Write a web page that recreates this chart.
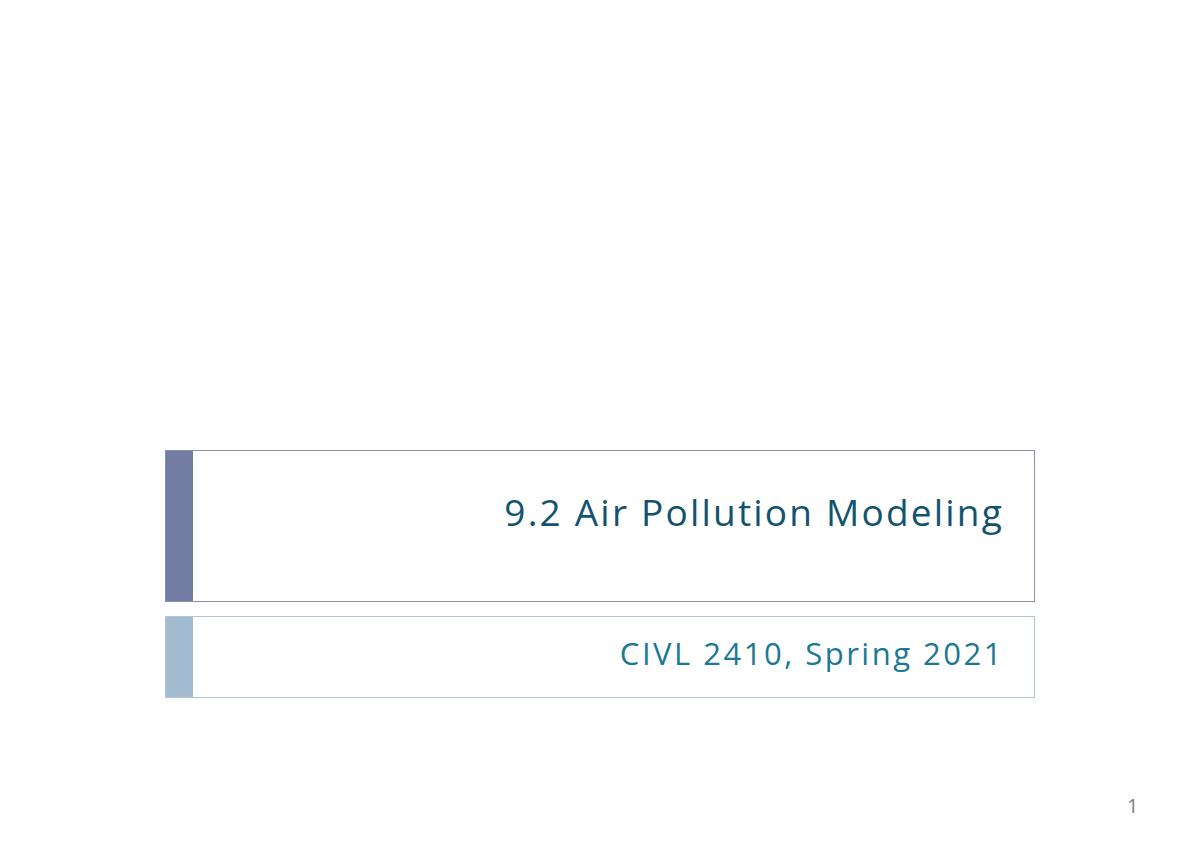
<!DOCTYPE html>
<html><head><meta charset="utf-8">
<script src="https://cdn.jsdelivr.net/npm/chart.js@4"></script>
<style>
body{margin:0;width:1200px;height:848px;background:#fff;position:relative;font-family:"Open Sans","Noto Sans",sans-serif;overflow:hidden}
.box{position:absolute;left:165px;width:870px;border:1px solid #8a90b0;box-sizing:border-box}
.acc{position:absolute;left:0;top:0;bottom:0;width:27px}
.t{position:absolute;right:30px;white-space:nowrap}
</style></head><body>
<div class="box" style="top:450px;height:152px">
  <div class="acc" style="background:#737ca3"></div>
  <div class="t" id="title" style="top:35px;font-size:37px;letter-spacing:2.2px;color:#13536d"></div>
</div>
<div class="box" style="top:616px;height:82px;border-color:#b4c4d4">
  <div class="acc" style="background:#a3bbd0"></div>
  <div class="t" id="sub" style="top:15px;font-size:31px;letter-spacing:2.5px;color:#1c7896"></div>
</div>
<div id="page" style="position:absolute;left:1127px;top:792px;font-size:20px;color:#808080"></div>
<script>
const titleText = "9.2 Air Pollution Modeling";
const subtitleText = "CIVL 2410, Spring 2021";
const pageNumber = "1";
document.getElementById("title").textContent = titleText;
document.getElementById("sub").textContent = subtitleText;
document.getElementById("page").textContent = pageNumber;
</script>
</body></html>
